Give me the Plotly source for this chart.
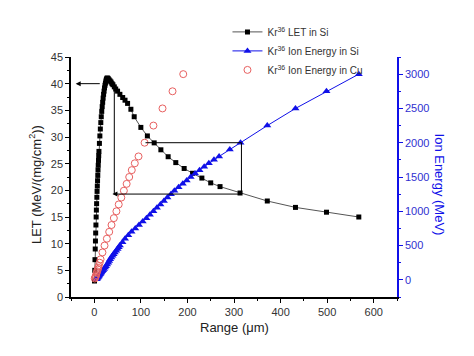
import plotly.graph_objects as go

# ---- data ----
# Kr LET in Si: range (um) vs LET (MeV/(mg/cm2))
let_range = [0.5, 1, 1.5, 2, 2.5, 3, 3.5, 4, 4.5, 5, 5.5, 6, 6.5, 7, 7.5, 8, 8.5, 9, 9.5, 10,
             11, 12, 13, 14, 15, 16, 17, 18, 19, 20, 21, 22, 23, 24, 25, 26, 27, 28, 29, 30,
             32, 34, 36, 38, 40, 43, 46, 50, 55, 61, 66, 71.5, 78.6, 85.7, 100, 114, 128.6,
             143, 158.6, 175, 193, 211, 231, 250, 270, 313, 371.5, 432, 498.6, 568]
let_values = [3.0, 5.0, 7.0, 9.0, 10.5, 12.0, 13.5, 15.0, 16.3, 17.5, 18.7, 19.8, 20.8, 21.8, 22.8,
              23.8, 24.7, 25.6, 26.5, 27.3, 28.8, 30.2, 31.5, 32.7, 33.8, 34.8, 35.7, 36.5, 37.3,
              38.0, 38.6, 39.2, 39.7, 40.1, 40.5, 40.8, 41.0, 41.05, 41.0, 40.9, 40.7, 40.5, 40.3,
              40.0, 39.8, 39.4, 39.0, 38.6, 38.0, 37.4, 36.9, 36.3, 35.2, 33.8, 31.8, 30.2, 28.9,
              27.6, 26.3, 25.2, 24.1, 23.2, 22.3, 21.4, 20.7, 19.5, 18.0, 16.8, 15.9, 15.0]

# Kr ion energy in Si: range (um) vs energy (MeV)
si_range = [5, 6, 7, 8, 9, 10, 11, 12, 13, 14, 15, 17, 19, 21, 23, 25, 27.5, 30, 32, 34, 36.5,
            39, 41.5, 44, 47, 50, 52.5, 55, 60.5, 66, 73, 80, 88, 96, 104, 112, 119.5, 127, 134.5,
            142, 149.5, 157, 164.5, 172, 181, 190, 198.5, 207, 216.5, 226, 236, 246, 257, 268,
            291, 314, 371.5, 432, 498.6, 568]
si_energy = [10, 20, 30, 40, 50, 60, 70, 80, 90, 100, 110, 125, 140, 160, 180, 200, 225, 250, 275,
             300, 325, 350, 375, 400, 425, 450, 475, 500, 550, 600, 650, 700, 750, 800, 850, 900,
             950, 1000, 1050, 1100, 1150, 1200, 1250, 1300, 1350, 1400, 1450, 1500, 1550, 1600,
             1650, 1700, 1750, 1800, 1900, 2000, 2250, 2500, 2750, 3000]

# Kr ion energy in Cu: range (um) vs energy (MeV)
cu_range = [1, 2, 3, 4, 5, 6, 7.5, 8.5, 9.5, 11.5, 13.5, 17.5, 22, 27, 32, 37, 42, 47.5, 52.5,
            58, 63.5, 69.5, 75, 80.5, 87, 95, 108, 127, 146.5, 168, 191]
cu_energy = [20, 35, 50, 70, 100, 125, 150, 175, 200, 250, 300, 400, 500, 600, 700, 800, 900,
             1000, 1100, 1200, 1300, 1400, 1500, 1600, 1700, 1800, 2000, 2250, 2500, 2750, 3000]

x_ticks = [0, 100, 200, 300, 400, 500, 600]
let_ticks = [0, 5, 10, 15, 20, 25, 30, 35, 40, 45]
e_ticks = [0, 500, 1000, 1500, 2000, 2500, 3000]

BLUE = "#1010e8"
TXT = "#333333"
FONT = "Liberation Sans, Arial, sans-serif"

fig = go.Figure()
fig.add_trace(go.Scatter(
    x=let_range, y=let_values, mode="lines+markers", name="Kr<sup>36</sup> LET in Si",
    line=dict(color="#555555", width=1),
    marker=dict(symbol="square", size=5, color="black"), yaxis="y"))
fig.add_trace(go.Scatter(
    x=si_range, y=si_energy, mode="lines+markers", name="Kr<sup>36</sup> Ion Energy in Si",
    line=dict(color=BLUE, width=1),
    marker=dict(symbol="triangle-up", size=7, color=BLUE), yaxis="y2"))
fig.add_trace(go.Scatter(
    x=cu_range, y=cu_energy, mode="markers", name="Kr<sup>36</sup> Ion Energy in Cu",
    marker=dict(symbol="circle-open", size=7, color="#e86060", line=dict(width=1)),
    yaxis="y2"))

# guide lines (in data coordinates)
E2000_let = 28.93
shapes = [
    dict(type="line", xref="x", yref="y", x0=110, x1=316, y0=E2000_let, y1=E2000_let,
         line=dict(color="black", width=1)),
    dict(type="line", xref="x", yref="y", x0=316, x1=316, y0=E2000_let, y1=19.3,
         line=dict(color="black", width=1)),
    dict(type="line", xref="x", yref="y", x0=43, x1=43, y0=39.6, y1=19.3,
         line=dict(color="black", width=1)),
]
annotations = [
    dict(x=-40, y=40, ax=15, ay=40, xref="x", yref="y", axref="x", ayref="y",
         showarrow=True, arrowhead=2, arrowsize=1, arrowwidth=1, arrowcolor="black", text=""),
    dict(x=39, y=19.3, ax=316, ay=19.3, xref="x", yref="y", axref="x", ayref="y",
         showarrow=True, arrowhead=2, arrowsize=1, arrowwidth=1, arrowcolor="black", text=""),
    dict(x=1.13, y=0.467, xref="paper", yref="paper", text="Ion Energy (MeV)",
         xanchor="center", yanchor="middle",
         textangle=90, showarrow=False, font=dict(size=13, color=BLUE, family=FONT)),
    dict(x=-0.11, y=0.467, xref="paper", yref="paper", text="LET (MeV/(mg/cm<sup>2</sup>))",
         xanchor="center", yanchor="middle",
         textangle=-90, showarrow=False, font=dict(size=13, color="#222222", family=FONT)),
    dict(x=0.501, y=-0.125, xref="paper", yref="paper", text="Range (\u03bcm)",
         xanchor="center", yanchor="middle",
         showarrow=False, font=dict(size=13, color="#222222", family=FONT)),
]

# the page body has an 8px margin, so margins are reduced to keep the plot area in place
fig.update_layout(
    width=474, height=356,
    margin=dict(l=63, r=85, t=49, b=67, autoexpand=False),
    paper_bgcolor="white", plot_bgcolor="white",
    font=dict(family=FONT, color=TXT, size=11),
    showlegend=True,
    legend=dict(x=0.48, y=1.165, xanchor="left", yanchor="top", bgcolor="rgba(0,0,0,0)",
                font=dict(size=10, color=TXT, family=FONT), tracegroupgap=0, itemwidth=30),
    shapes=shapes, annotations=annotations,
    xaxis=dict(range=[-50, 650], tickvals=x_ticks, showgrid=False, zeroline=False,
               automargin=False,
               showline=True, linecolor="black", linewidth=1.5, ticks="outside", ticklen=4,
               tickcolor="black",
               minor=dict(dtick=50, ticks="outside", ticklen=2, tickcolor="black"),
               tickfont=dict(size=11, color=TXT)),
    yaxis=dict(range=[0, 45], tickvals=let_ticks, showgrid=False, zeroline=False,
               automargin=False,
               showline=True, linecolor="black", linewidth=1.5, ticks="outside", ticklen=4,
               tickcolor="black",
               minor=dict(dtick=2.5, ticks="outside", ticklen=2, tickcolor="black"),
               tickfont=dict(size=11, color=TXT)),
    yaxis2=dict(range=[-250, 3250], tickvals=e_ticks, overlaying="y", side="right",
                automargin=False,
                showgrid=False, zeroline=False, showline=True, linecolor=BLUE, linewidth=1.5,
                ticks="outside", ticklen=4, tickcolor=BLUE,
                minor=dict(dtick=250, ticks="outside", ticklen=2, tickcolor=BLUE),
                tickfont=dict(size=11, color="#3030d0")),
)

fig.write_html("out.html")
